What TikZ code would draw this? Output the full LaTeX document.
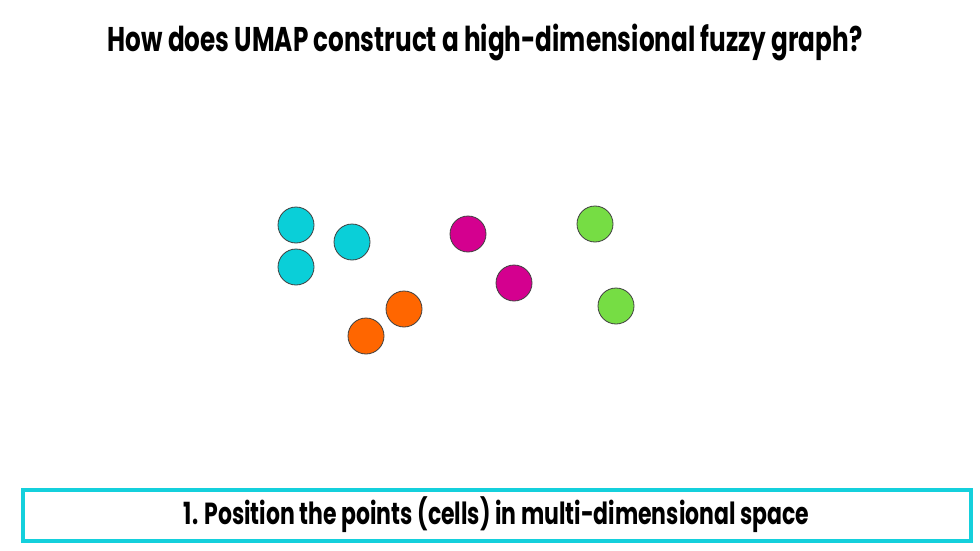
\documentclass[tikz,border=0pt]{standalone}
\usepackage{fontspec}
\setmainfont{Poppins}[FakeStretch=0.72]
\usetikzlibrary{positioning}
\definecolor{PointCyan}{RGB}{10,207,216}
\definecolor{PointMagenta}{RGB}{212,0,143}
\definecolor{PointGreen}{RGB}{118,221,68}
\definecolor{PointOrange}{RGB}{255,102,0}
\definecolor{StepCyan}{RGB}{20,208,220}
\tikzset{
  cell/.style={circle,draw=black!75,line width=0.8pt,minimum size=36pt,inner sep=0pt},
  titletext/.style={font=\fontsize{34.3}{40}\selectfont\bfseries},
  stepbox/.style={draw=StepCyan,line width=4pt,minimum width=948pt,minimum height=51pt,
    font=\fontsize{30.5}{34}\selectfont\bfseries}
}
\begin{document}
\begin{tikzpicture}[x=1pt,y=-1pt]
  \useasboundingbox (0,0) rectangle (980,551);
  \node[titletext] (title) at (485,42) {How does UMAP construct a high-dimensional fuzzy graph?};
  % points
  \node[cell,fill=PointCyan] (c1) at (296,225) {};
  \node[cell,fill=PointCyan] (c2) at (296,267) {};
  \node[cell,fill=PointCyan] (c3) at (352,242) {};
  \node[cell,fill=PointMagenta] (m1) at (468,234) {};
  \node[cell,fill=PointMagenta] (m2) at (514,283) {};
  \node[cell,fill=PointGreen] (g1) at (595,224) {};
  \node[cell,fill=PointGreen] (g2) at (616,306) {};
  \node[cell,fill=PointOrange] (o1) at (404,309) {};
  \node[cell,fill=PointOrange] (o2) at (366,336) {};
  % step caption
  \node[stepbox] (step1) at (496.5,515) {1. Position the points (cells) in multi-dimensional space};
\end{tikzpicture}
\end{document}
